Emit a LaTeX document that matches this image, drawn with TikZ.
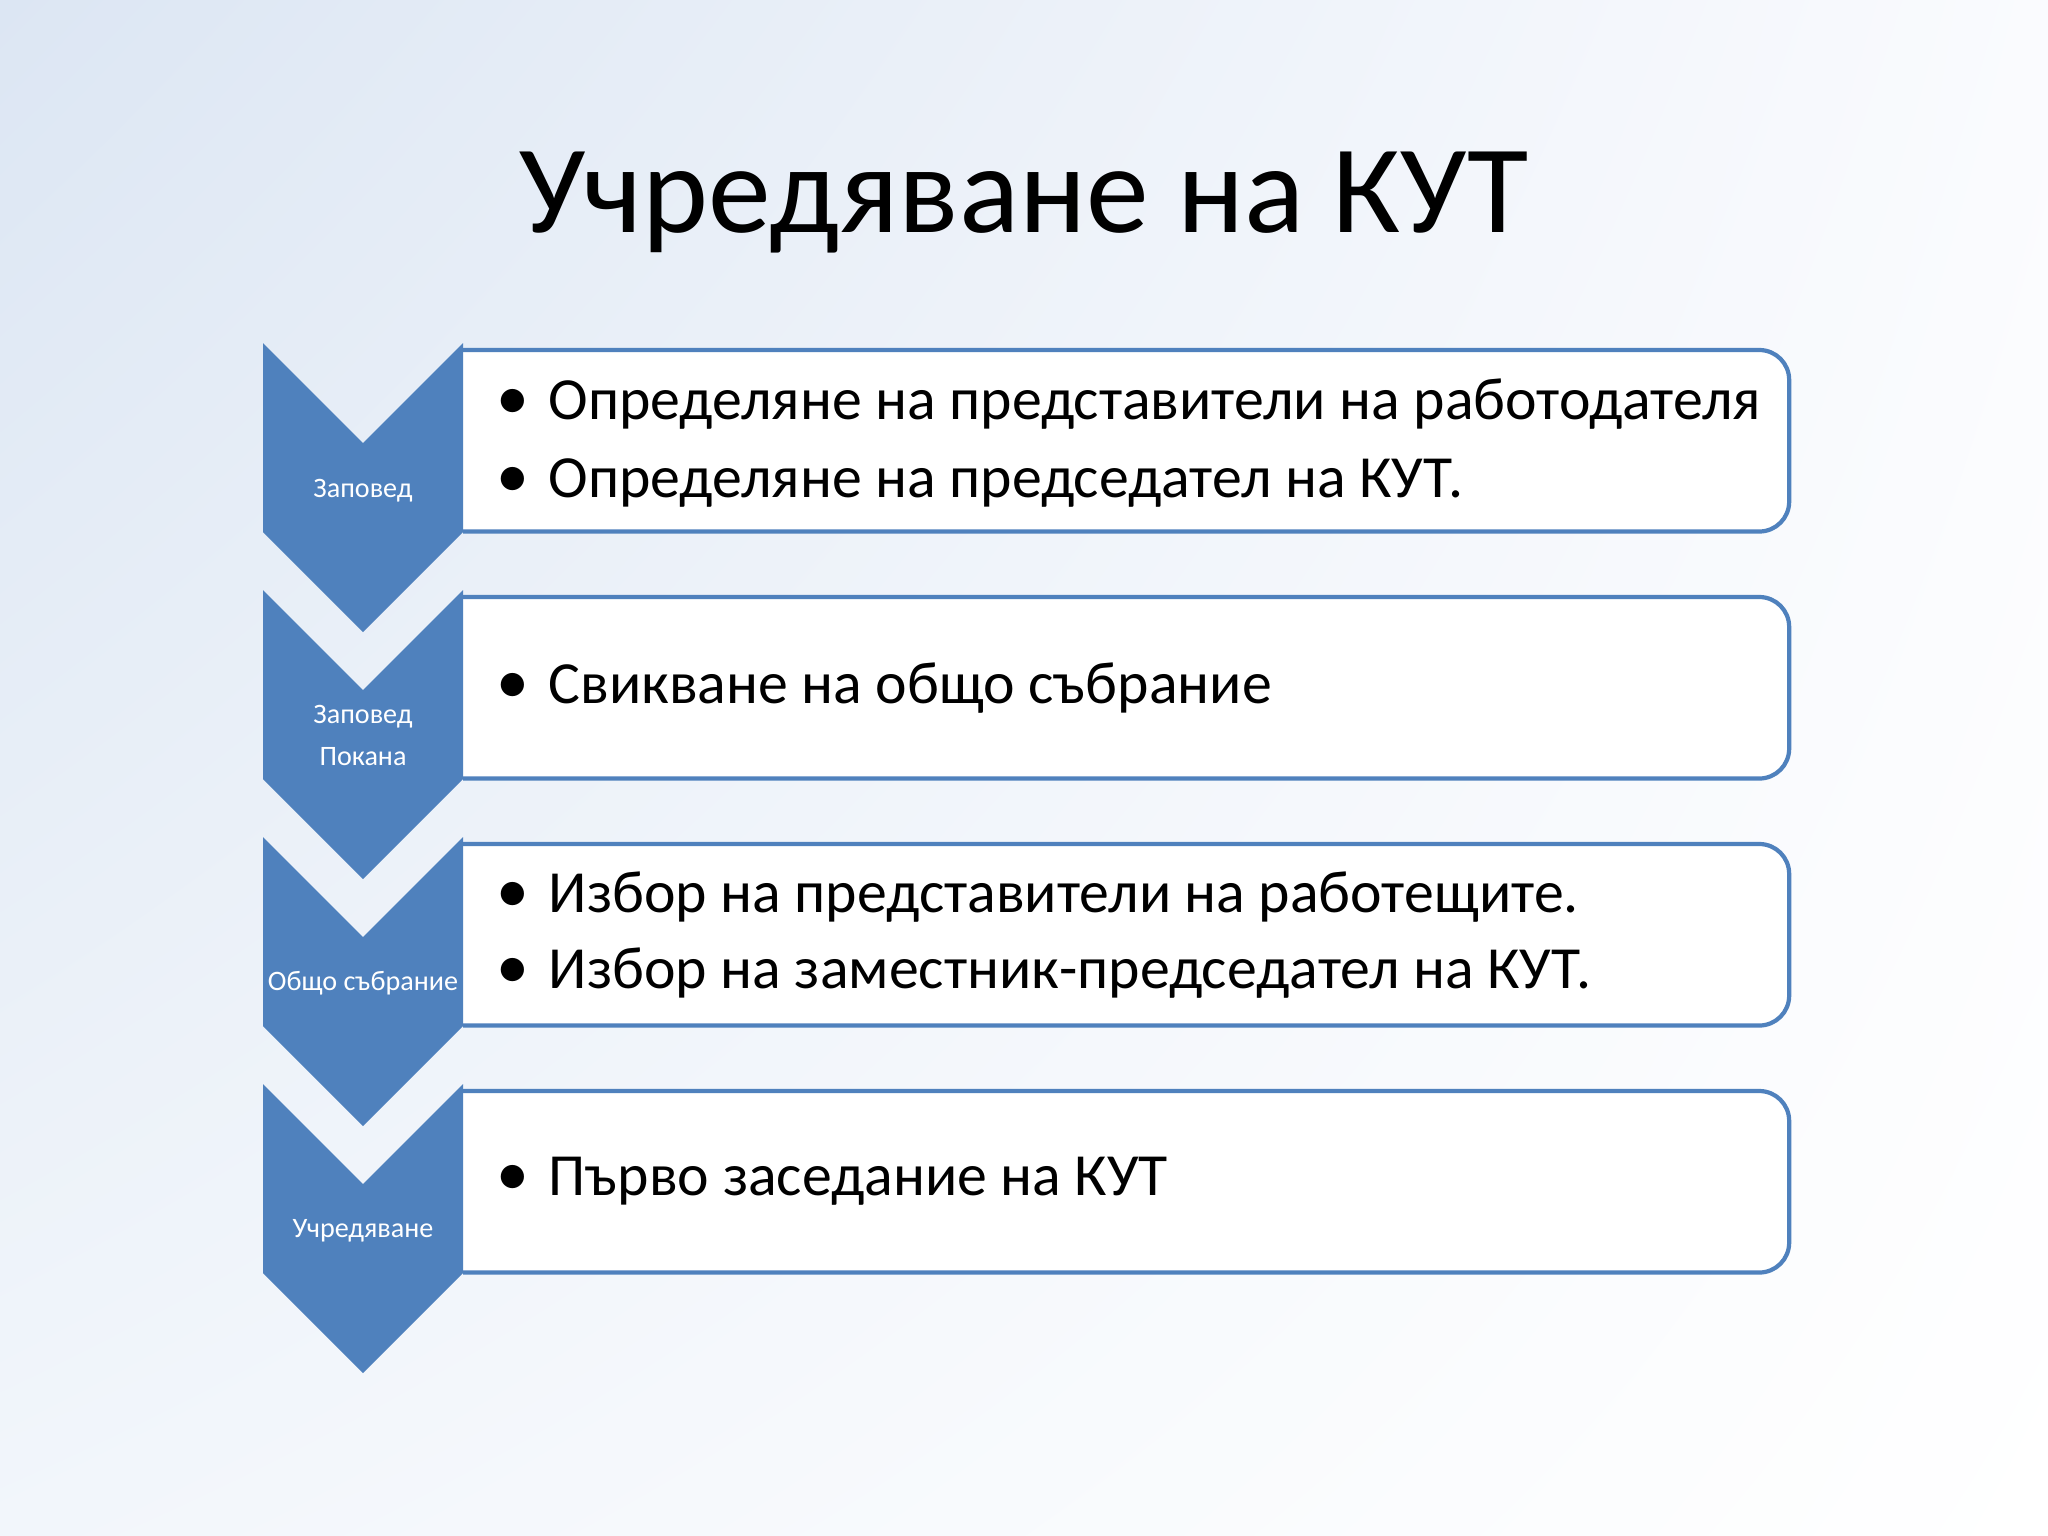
\documentclass[tikz,border=0pt]{standalone}
\usepackage{fontspec}
\setmainfont{Carlito}
\usetikzlibrary{shadings}
\definecolor{chevblue}{RGB}{79,129,189}
\definecolor{bgtl}{RGB}{220,230,243}
\definecolor{bgtr}{RGB}{250,251,254}
\definecolor{bgbl}{RGB}{242,246,251}
\newcommand\itm{\makebox[0.47cm][l]{\hspace{-0.05cm}\scalebox{1.1}{\textbullet}}}
\begin{document}
\begin{tikzpicture}[x=0.01cm,y=-0.01cm,
	chevron/.style={fill=chevblue},
	stepbox/.style={anchor=north west,minimum width=13.24cm,minimum height=1.80cm},
	boxline/.style={draw=chevblue,line width=1.2pt,fill=white,rounded corners=8.5pt},
	steplabel/.style={text=white,anchor=base,inner sep=0,font=\fontsize{8}{9}\selectfont},
	item/.style={anchor=base west,inner sep=0,font=\fontsize{17}{20}\selectfont}]
	\shade[upper left=bgtl,upper right=bgtr,lower left=bgbl,lower right=white] (0,0) rectangle (2048,1536);
	\useasboundingbox (0,0) rectangle (2048,1536);

	\node[anchor=base,inner sep=0,font=\fontsize{35.7}{42}\selectfont] (title) at (1024,232) {Учредяване на КУТ};

	% boxes: left side is hidden by the chevrons
	\node[stepbox] (box1) at (463,350) {};
	\node[stepbox] (box2) at (463,597) {};
	\node[stepbox] (box3) at (463,844) {};
	\node[stepbox] (box4) at (463,1091) {};
	\filldraw[boxline] (box1.north west) -- (box1.north east) -- (box1.south east) -- (box1.south west);
	\filldraw[boxline] (box2.north west) -- (box2.north east) -- (box2.south east) -- (box2.south west);
	\filldraw[boxline] (box3.north west) -- (box3.north east) -- (box3.south east) -- (box3.south west);
	\filldraw[boxline] (box4.north west) -- (box4.north east) -- (box4.south east) -- (box4.south west);

	\fill[chevron] (263,343) -- (363,443) -- (463,343) -- (463,532) -- (363,632) -- (263,532) -- cycle;
	\fill[chevron] (263,590) -- (363,690) -- (463,590) -- (463,779) -- (363,879) -- (263,779) -- cycle;
	\fill[chevron] (263,837) -- (363,937) -- (463,837) -- (463,1026) -- (363,1126) -- (263,1026) -- cycle;
	\fill[chevron] (263,1084) -- (363,1184) -- (463,1084) -- (463,1273) -- (363,1373) -- (263,1273) -- cycle;

	\node[steplabel] (lbl1) at (363,497) {Заповед};
	\node[steplabel] (lbl2a) at (363,723) {Заповед};
	\node[steplabel] (lbl2b) at (363,765) {Покана};
	\node[steplabel] (lbl3) at (363,990) {Общо събрание};
	\node[steplabel] (lbl4) at (363,1237) {Учредяване};

	\node[item] (it1a) at (501,419) {\itm Определяне на представители на работодателя};
	\node[item] (it1b) at (501,497) {\itm Определяне на председател на КУТ.};
	\node[item] (it2) at (501,703) {\itm Свикване на общо събрание};
	\node[item] (it3a) at (501,912) {\itm Избор на представители на работещите.};
	\node[item] (it3b) at (501,988) {\itm Избор на заместник-председател на КУТ.};
	\node[item] (it4) at (501,1195) {\itm Първо заседание на КУТ};

\end{tikzpicture}
\end{document}
